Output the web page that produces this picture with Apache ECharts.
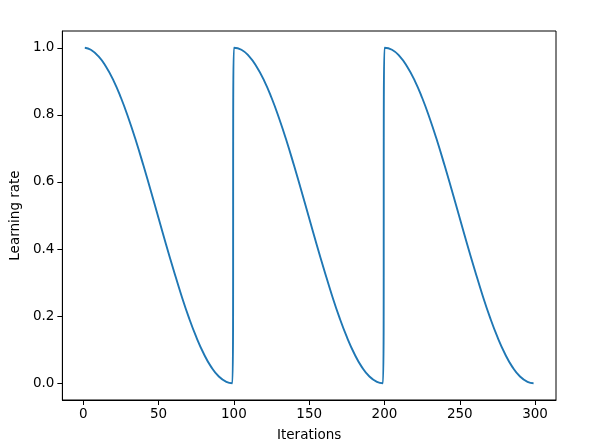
<!DOCTYPE html>
<html>
<head>
<meta charset="utf-8">
<script src="https://cdn.jsdelivr.net/npm/echarts@6/dist/echarts.min.js"></script>
<style>
html,body{margin:0;padding:0;background:#fff;}
#main{width:592px;height:447px;}
</style>
</head>
<body>
<div id="main"></div>
<script>
// Values (three identical restart cycles)
const iterations = [
  1, 5, 10, 15, 20, 25, 30, 35, 40, 45, 50, 55, 60, 65, 70, 75, 80, 85, 90, 95, 99,
  100, 105, 110, 115, 120, 125, 130, 135, 140, 145, 150, 155, 160, 165, 170, 175, 180, 185, 190, 195, 199,
  200, 205, 210, 215, 220, 225, 230, 235, 240, 245, 250, 255, 260, 265, 270, 275, 280, 285, 290, 295, 299
];
const learningRate = [
  1.000, 0.994, 0.975, 0.944, 0.903, 0.851, 0.790, 0.722, 0.648, 0.571, 0.492, 0.413, 0.337, 0.264, 0.197, 0.138, 0.088, 0.048, 0.020, 0.004, 0.000,
  1.000, 0.994, 0.975, 0.944, 0.903, 0.851, 0.790, 0.722, 0.648, 0.571, 0.492, 0.413, 0.337, 0.264, 0.197, 0.138, 0.088, 0.048, 0.020, 0.004, 0.000,
  1.000, 0.994, 0.975, 0.944, 0.903, 0.851, 0.790, 0.722, 0.648, 0.571, 0.492, 0.413, 0.337, 0.264, 0.197, 0.138, 0.088, 0.048, 0.020, 0.004, 0.000
];
const xTicks = [0, 50, 100, 150, 200, 250, 300];
const yTicks = [0.0, 0.2, 0.4, 0.6, 0.8, 1.0];
const xTitle = 'Iterations';
const yTitle = 'Learning rate';

const points = iterations.map((x, i) => [x, learningRate[i]]);
const font = 'DejaVu Sans';
const fs = 13.5;
const chart = echarts.init(document.getElementById('main'));
chart.setOption({
  animation: false,
  grid: {left: 60, right: 36, top: 31, bottom: 47, show: true, borderColor: '#000', borderWidth: 1, backgroundColor: 'transparent'},
  xAxis: {
    type: 'value', min: -13.9, max: 313.9,
    name: xTitle, nameLocation: 'middle', nameGap: 28,
    nameTextStyle: {fontFamily: font, fontSize: fs, color: '#000'},
    axisLine: {show: true, onZero: false, lineStyle: {color: '#000', width: 1}},
    axisTick: {show: true, length: 5, customValues: xTicks, lineStyle: {color: '#000'}},
    axisLabel: {customValues: xTicks, fontFamily: font, fontSize: fs, color: '#000', margin: 7},
    splitLine: {show: false}
  },
  yAxis: {
    type: 'value', min: -0.05, max: 1.05,
    name: yTitle, nameLocation: 'middle', nameGap: 40, nameRotate: 90,
    nameTextStyle: {fontFamily: font, fontSize: fs, color: '#000'},
    axisLine: {show: true, onZero: false, lineStyle: {color: '#000', width: 1}},
    axisTick: {show: true, length: 5, customValues: yTicks, lineStyle: {color: '#000'}},
    axisLabel: {customValues: yTicks, formatter: v => v.toFixed(1), fontFamily: font, fontSize: fs, color: '#000', margin: 8},
    splitLine: {show: false}
  },
  series: [{
    type: 'line', data: points, showSymbol: false,
    smooth: 0.5,
    lineStyle: {color: '#1f77b4', width: 1.9}
  }]
});
</script>
</body>
</html>
